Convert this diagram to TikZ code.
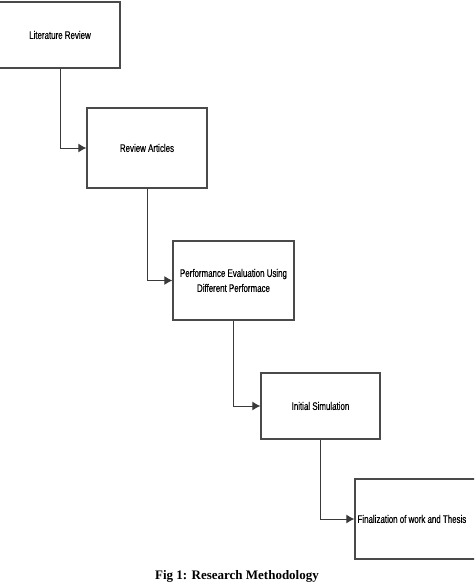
\documentclass[tikz,border=0pt]{standalone}
\usepackage{fontspec}
\setmainfont{Liberation Serif}
\newfontfamily\narrowfont[FakeStretch=0.72,FakeBold=0.4]{Liberation Sans}
\usetikzlibrary{arrows.meta}
\definecolor{boxline}{HTML}{4A4A4A}
\definecolor{conline}{HTML}{3A3A3A}
\tikzset{
  stepbox/.style={draw=boxline, line width=1.3pt, rectangle, inner sep=0pt,
    font=\narrowfont\fontsize{11}{15}\selectfont, align=center, text=black},
  flow/.style={draw=conline, line width=1pt, -{Latex[length=8pt,width=9pt]}}
}
\begin{document}
\begin{tikzpicture}[x=1pt,y=-1pt]
\useasboundingbox (0,0) rectangle (474,583);
\clip (0,0) rectangle (474,583);
\node[stepbox, minimum width=130pt, minimum height=66pt] (b1) at (55,35) {};
\node[font=\narrowfont\fontsize{11}{15}\selectfont, inner sep=0pt] (t1) at ([xshift=5pt]b1.center) {Literature Review};
\node[stepbox, minimum width=120pt, minimum height=80pt] (b2) at (147,148) {Review Articles};
\node[stepbox, minimum width=121pt, minimum height=79pt] (b3) at (233.5,280.5) {Performance Evaluation Using\\Different Performace};
\node[stepbox, minimum width=119pt, minimum height=66pt] (b4) at (320.5,406) {Initial Simulation};
\node[stepbox, minimum width=130pt, minimum height=80pt] (b5) at (420,519) {};
\node[font=\narrowfont\fontsize{11}{15}\selectfont, anchor=west, inner sep=0pt] (t5) at ([xshift=3pt]b5.west) {Finalization of work and Thesis};
\draw[flow] ([xshift=5pt]b1.south) |- (b2.west);
\draw[flow] (b2.south) |- (b3.west);
\draw[flow] (b3.south) |- (b4.west);
\draw[flow] (b4.south) |- (b5.west);
\node[font=\bfseries\fontsize{13}{16}\selectfont, anchor=base] (cap) at (237,579) {Fig 1: Research Methodology};
\end{tikzpicture}
\end{document}
